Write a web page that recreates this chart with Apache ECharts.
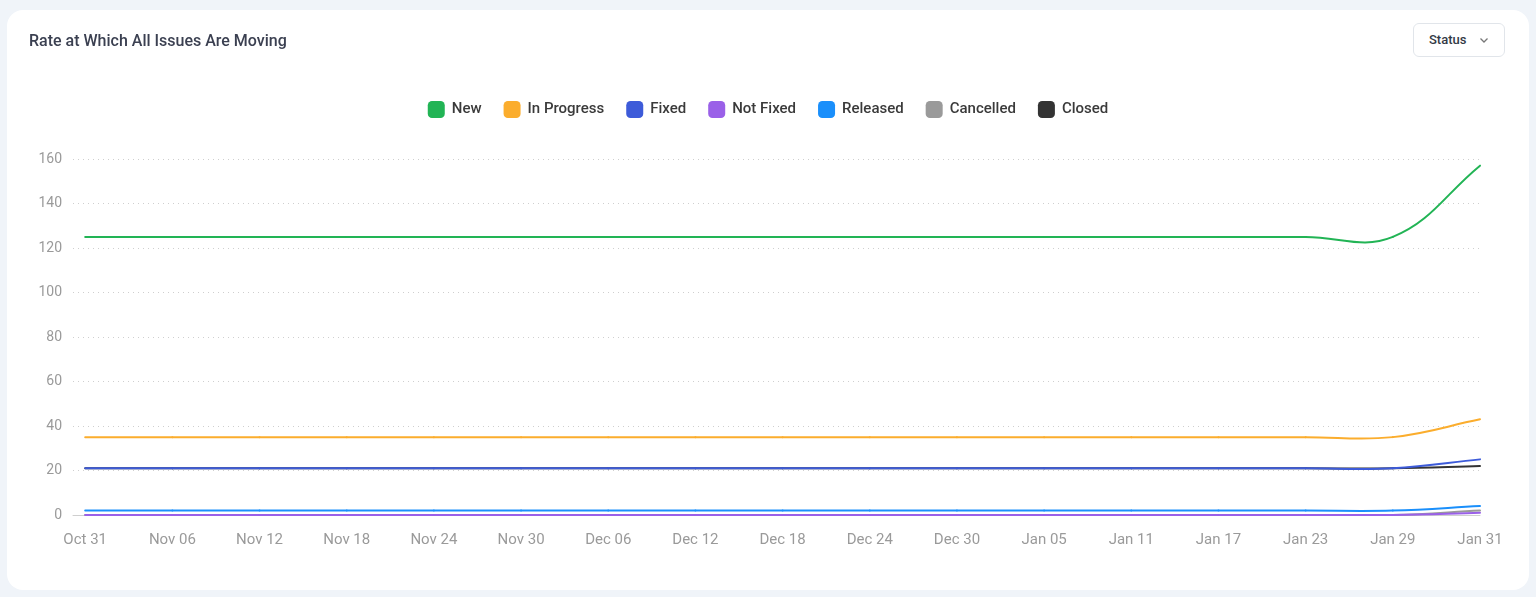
<!DOCTYPE html>
<html>
<head>
<meta charset="utf-8">
<script src="https://cdn.jsdelivr.net/npm/echarts@6/dist/echarts.min.js"></script>
<style>
  html, body { margin: 0; padding: 0; background: #f0f4f9; }
  body { width: 1536px; height: 597px; position: relative; overflow: hidden; font-family: Roboto, "Noto Sans", sans-serif; }
  .tarjeta { position: absolute; left: 7px; top: 10px; width: 1522px; height: 580px; background: #fff; border-radius: 16px; }
  .grafico-container { position: absolute; left: 0; top: 0; width: 1536px; height: 597px; }
  .boton-status { position: absolute; left: 1413px; top: 23px; width: 92px; height: 34px; border: 1px solid #e1e5ea; border-radius: 6px; background: #fff; box-sizing: border-box; font-size: 13px; font-weight: 500; color: #333a45; line-height: 32px; padding-left: 15px; }
  .boton-status svg { position: absolute; left: 65px; top: 13px; }
</style>
</head>
<body>
<div class="tarjeta"></div>
<div class="grafico-container"></div>
<div class="boton-status">Status<svg width="10" height="7" viewBox="0 0 10 7"><path d="M1.5 1.5 L5 5 L8.5 1.5" fill="none" stroke="#777" stroke-width="1.3"/></svg></div>
<script>
const fechas = ["Oct 31", "Nov 06", "Nov 12", "Nov 18", "Nov 24", "Nov 30", "Dec 06", "Dec 12", "Dec 18", "Dec 24", "Dec 30", "Jan 05", "Jan 11", "Jan 17", "Jan 23", "Jan 29", "Jan 31"];

const nuevos       = [125, 125, 125, 125, 125, 125, 125, 125, 125, 125, 125, 125, 125, 125, 125, 125, 157];
const enProgreso   = [35, 35, 35, 35, 35, 35, 35, 35, 35, 35, 35, 35, 35, 35, 35, 35, 43];
const arreglados   = [21, 21, 21, 21, 21, 21, 21, 21, 21, 21, 21, 21, 21, 21, 21, 21, 25];
const noArreglados = [0, 0, 0, 0, 0, 0, 0, 0, 0, 0, 0, 0, 0, 0, 0, 0, 1];
const publicados   = [2, 2, 2, 2, 2, 2, 2, 2, 2, 2, 2, 2, 2, 2, 2, 2, 4];
const cancelados   = [0, 0, 0, 0, 0, 0, 0, 0, 0, 0, 0, 0, 0, 0, 0, 0, 2];
const cerrados     = [21, 21, 21, 21, 21, 21, 21, 21, 21, 21, 21, 21, 21, 21, 21, 21, 22];

const ticksY = [0, 20, 40, 60, 80, 100, 120, 140, 160];

const nombres = ["New", "In Progress", "Fixed", "Not Fixed", "Released", "Cancelled", "Closed"];
const colores = ["#22b455", "#fbad2d", "#3d5bd9", "#9a60e8", "#1a8ffb", "#9a9a9a", "#333333"];
const valores = [nuevos, enProgreso, arreglados, noArreglados, publicados, cancelados, cerrados];

// curva con tension (como un spline cardinal), puntos de control por tramo
const tension = 0.4;

function controles(prev, cur, next) {
    const d01 = Math.hypot(cur[0] - prev[0], cur[1] - prev[1]);
    const d12 = Math.hypot(next[0] - cur[0], next[1] - cur[1]);
    let s01 = d01 / (d01 + d12);
    let s12 = d12 / (d01 + d12);
    if (isNaN(s01)) s01 = 0;
    if (isNaN(s12)) s12 = 0;
    const fa = tension * s01;
    const fb = tension * s12;
    return {
        anterior: [cur[0] - fa * (next[0] - prev[0]), cur[1] - fa * (next[1] - prev[1])],
        siguiente: [cur[0] + fb * (next[0] - prev[0]), cur[1] + fb * (next[1] - prev[1])]
    };
}

function limitar(p, area) {
    return [
        Math.min(Math.max(p[0], area.x), area.x + area.width),
        Math.min(Math.max(p[1], area.y), area.y + area.height)
    ];
}

function renderizarTramo(params, api) {
    const serie = valores[params.seriesIndex];
    const i = params.dataIndex;
    const n = serie.length;
    if (i >= n - 1) return null;
    const punto = function (j) { return api.coord([j, serie[j]]); };
    const p0 = punto(Math.max(i - 1, 0));
    const p1 = punto(i);
    const p2 = punto(i + 1);
    const p3 = punto(Math.min(i + 2, n - 1));
    const area = params.coordSys;
    const cA = limitar(controles(p0, p1, p2).siguiente, area);
    const cB = limitar(controles(p1, p2, p3).anterior, area);
    return {
        type: "bezierCurve",
        shape: { x1: p1[0], y1: p1[1], x2: p2[0], y2: p2[1], cpx1: cA[0], cpy1: cA[1], cpx2: cB[0], cpy2: cB[1] },
        style: { stroke: api.visual("color"), lineWidth: 2, fill: null, lineCap: "round" }
    };
}

const contenedor = document.querySelector(".grafico-container");
const miGrafico = echarts.init(contenedor, null, { renderer: "canvas" });

const opciones = {
    animation: false,
    textStyle: { fontFamily: "Roboto" },
    title: {
        text: "Rate at Which All Issues Are Moving",
        left: 24,
        top: 29,
        textStyle: { fontSize: 16, fontWeight: 500, color: "#3b4051" }
    },
    legend: {
        top: 96,
        left: "center",
        icon: "roundRect",
        itemWidth: 17,
        itemHeight: 17,
        itemGap: 22,
        textStyle: { fontSize: 15, fontWeight: 500, color: "#3a3a3a", padding: [0, 0, 0, 2] },
        data: nombres
    },
    grid: { left: 73, right: 56, top: 159, bottom: 82 },
    xAxis: {
        type: "value",
        min: -0.14,
        max: fechas.length - 1,
        splitNumber: 16,
        axisLine: { show: true, lineStyle: { color: "#cfcfcf", width: 1 } },
        axisTick: { show: false },
        splitLine: { show: false },
        axisLabel: {
            fontSize: 15,
            color: "#9a9a9a",
            margin: 18,
            showMinLabel: true,
            showMaxLabel: true,
            formatter: function (v) {
                return Number.isInteger(v) ? (fechas[v] || "") : "";
            }
        }
    },
    yAxis: {
        type: "value",
        min: ticksY[0],
        max: ticksY[ticksY.length - 1],
        interval: ticksY[1] - ticksY[0],
        axisLine: { show: false },
        axisTick: { show: false },
        axisLabel: { fontSize: 14, color: "#9a9a9a", margin: 11 },
        splitLine: { lineStyle: { type: [1, 4], color: "#cfcfcf", width: 1 } }
    },
    series: nombres.map(function (nombre, i) {
        return {
            name: nombre,
            type: "custom",
            renderItem: renderizarTramo,
            z: 10 - i,
            itemStyle: { color: colores[i] },
            encode: { x: 0, y: 1 },
            data: valores[i].map(function (v, j) { return [j, v]; })
        };
    })
};

miGrafico.setOption(opciones);
</script>
</body>
</html>
